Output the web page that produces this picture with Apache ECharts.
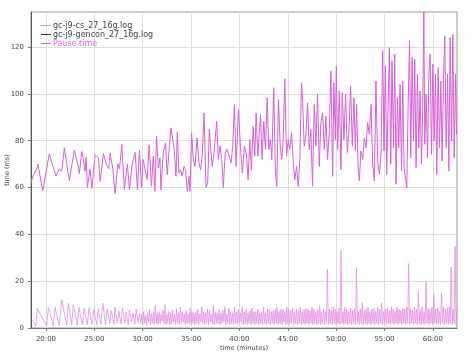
<!DOCTYPE html>
<html>
<head>
<meta charset="utf-8">
<script src="https://cdn.jsdelivr.net/npm/echarts@6/dist/echarts.min.js"></script>
<style>
  html, body { margin: 0; padding: 0; background: #fff; }
  #chart { width: 474px; height: 353px; }
</style>
</head>
<body>
<div id="chart"></div>
<script>
// pause times of the upper run, minutes -> ms
const highTime = [18.45, 18.65, 19.04, 19.17, 19.66, 20.34, 20.62, 21.04, 21.38, 21.63, 21.90, 22.15, 22.41, 22.93, 23.35, 23.45, 23.70, 23.87, 24.04, 24.15,
  24.28, 24.56, 24.74, 25.08, 25.42, 25.60, 25.94, 26.22, 26.50, 26.63, 26.91, 27.15, 27.43, 27.60, 27.84, 28.11, 28.42, 28.63, 28.91, 29.22,
  29.46, 29.67, 29.88, 30.05, 30.29, 30.47, 30.67, 30.91, 31.09, 31.26, 31.43, 31.61, 31.78, 31.89, 32.12, 32.36, 32.54, 32.75, 32.92, 33.09,
  33.26, 33.44, 33.58, 33.75, 33.92, 34.09, 34.27, 34.44, 34.61, 34.79, 34.89, 35.06, 35.23, 35.41, 35.62, 35.82, 35.99, 36.17, 36.34, 36.55,
  36.72, 36.89, 37.07, 37.20, 37.41, 37.65, 37.82, 38.00, 38.17, 38.34, 38.52, 38.73, 38.93, 39.14, 39.31, 39.48, 39.66, 39.90, 40.10, 40.31,
  40.52, 40.73, 40.90, 41.07, 41.24, 41.42, 41.59, 41.73, 41.90, 42.00, 42.18, 42.35, 42.52, 42.69, 42.87, 43.04, 43.21, 43.35, 43.55, 43.73,
  43.87, 44.04, 44.22, 44.38, 44.53, 44.69, 44.87, 45.05, 45.21, 45.39, 45.57, 45.73, 45.91, 46.08, 46.25, 46.42, 46.53, 46.70, 46.87, 47.05,
  47.22, 47.39, 47.56, 47.74, 47.91, 48.08, 48.26, 48.42, 48.60, 48.78, 48.94, 49.12, 49.30, 49.46, 49.64, 49.77, 49.92, 50.02, 50.16, 50.33,
  50.50, 50.64, 50.81, 50.98, 51.16, 51.33, 51.50, 51.68, 51.84, 51.99, 52.12, 52.26, 52.40, 52.57, 52.75, 52.92, 53.09, 53.26, 53.44, 53.61,
  53.78, 53.96, 54.12, 54.30, 54.48, 54.64, 54.82, 54.95, 55.10, 55.23, 55.37, 55.51, 55.65, 55.78, 55.93, 56.06, 56.20, 56.34, 56.48, 56.61,
  56.76, 56.89, 57.03, 57.17, 57.31, 57.44, 57.59, 57.72, 57.86, 58.00, 58.13, 58.27, 58.41, 58.55, 58.68, 58.83, 58.96, 59.07, 59.17, 59.31,
  59.45, 59.59, 59.72, 59.87, 60.00, 60.14, 60.28, 60.41, 60.55, 60.69, 60.83, 60.96, 61.11, 61.24, 61.38, 61.52, 61.66, 61.79, 61.94, 62.07,
  62.21, 62.35, 62.45];
const highMs = [62, 65, 68, 70, 58.5, 74.4, 70.3, 65, 68, 67, 77, 70, 63, 76, 69, 66, 75.5, 72, 67, 73,
  60, 68, 59.7, 74, 72.7, 62.7, 74.5, 70, 68, 74.8, 68, 57.4, 70, 68, 78.4, 59.2, 70, 59, 70, 75,
  59, 76, 60, 72, 67, 63.4, 78.2, 60.6, 73.4, 58.4, 82, 68.4, 72.7, 59, 74.8, 79.1, 65.5, 77, 85.5, 84.8,
  76.3, 64.8, 83.7, 66.2, 67.6, 64.8, 69, 67.6, 58.4, 64.8, 58.4, 83.4, 72, 69, 81.2, 70.5, 67.6, 74.8, 91.9, 60,
  62, 84.8, 74.8, 69, 76.3, 88.4, 72, 77.7, 72, 60, 74.8, 76.3, 77, 70.5, 77.7, 95.5, 69, 93.4, 77.7, 66.2,
  77.7, 74, 63.4, 80.5, 67.6, 86.2, 73.4, 91.9, 73.4, 72.7, 91.2, 72, 88.4, 76.3, 98.4, 76.3, 80.5, 72, 102.7, 66.2,
  60.5, 97.6, 77.7, 72, 80.5, 106.5, 73.4, 80.5, 76.3, 83.4, 70.5, 63.4, 69, 60.5, 72, 104.8, 97.6, 77.7, 82, 96.2,
  76.3, 84.8, 60.5, 95.5, 77.7, 100, 69, 87.7, 91.9, 76.3, 90.5, 72, 84.8, 109.8, 64.8, 104.8, 80.5, 111.9, 76.3, 101.3,
  67.6, 100.6, 80.5, 100, 74.8, 84.8, 103.4, 77.7, 98.4, 75.7, 95.5, 70, 62.8, 75.7, 72, 81.2, 77, 87.7, 82.7, 95.5,
  70, 62.8, 105.5, 71.3, 65.6, 74.2, 118.5, 75.7, 112.1, 65.6, 94.1, 119.8, 70, 114.2, 77, 117, 61.4, 98.4, 77, 104.1,
  67, 105.5, 68.5, 64.2, 59.9, 94.1, 122.7, 72.7, 115.6, 79.9, 114.9, 68.5, 108.4, 77, 101.3, 70, 94.1, 135, 78.5, 99.9,
  72.7, 108.4, 117, 74.2, 112.8, 79.9, 108.4, 65.6, 111.3, 77, 105.5, 71.3, 108.4, 124.8, 77, 108.4, 67, 124.1, 79.9, 125.5,
  72.7, 108.4, 82.7];

// lower run: early sawtooth, read point by point
const lowSawTime = [18.62, 18.96, 19.10, 20.07, 20.24, 20.76, 20.93, 21.38, 21.63, 22.14, 22.31, 22.66, 22.83, 23.24, 23.42, 23.76, 23.94, 24.28, 24.46, 24.77,
  24.94, 25.25, 25.39, 25.67, 25.88, 26.15, 26.32, 26.60, 26.74, 27.02, 27.15, 27.39, 27.53, 27.77, 27.91, 28.16, 28.29, 28.50, 28.63, 28.84,
  28.98, 29.19, 29.33, 29.53, 29.67];
const lowSawMs = [3.4, 0.9, 8.4, 0.9, 8.8, 1, 8.8, 1, 12, 1.2, 10.6, 1.5, 9.9, 1.2, 8.8, 1.5, 8.4, 1.3, 8.8, 1.6,
  7.7, 1.4, 8.2, 1.6, 10.6, 1.5, 8, 2, 7.5, 1.5, 9, 2, 7.2, 1.8, 8.5, 2.2, 6.8, 1.5, 7.6, 2.5,
  6.5, 1.8, 8, 2.4, 6.2];

// lower run: dense part, one reading every 0.1 minutes from 29.8
const lowDenseStart = 29.8;
const lowDenseStep = 0.1;
const lowDenseMs = [
  2, 6, 1.5, 7, 2, 5.5, 1, 6.5, 2.5, 8, 1.5, 6, 2, 7, 1.5, 9.5, 2, 6.5, 1.5, 7,
  2, 6, 3, 7.5, 2, 10, 1.5, 6, 2, 7, 1.5, 6.5, 2, 7.5, 2.5, 6, 1.5, 8, 2, 6.5,
  1.5, 9, 2, 7, 2.5, 6, 1.5, 7.5, 2, 6, 2, 8.5, 1.5, 7, 2, 6.5, 1.5, 7, 2, 8,
  1.5, 6, 2.5, 9, 2, 7, 1.5, 6.5, 2, 8, 1.5, 7.5, 2.5, 6, 2, 9.5, 1.5, 7, 2, 6.5,
  2, 8, 1.5, 6.5, 2, 7.5, 2.5, 9, 1.5, 6, 2, 8.5, 1.5, 7, 2, 6.5, 1.5, 9, 2, 7,
  1.5, 8, 2, 6.5, 2.5, 9, 1.5, 7, 2, 8, 1.5, 6.5, 2, 7.5, 1.5, 8.5, 2, 7, 1.5, 7,
  2, 8, 1.5, 6.5, 2, 7, 1.5, 9, 2, 6.5, 1.5, 8, 2, 8, 1.5, 7, 2, 7.5, 1.5, 8,
  2, 9, 1.5, 7, 2, 8, 1.5, 8, 2.5, 7, 1.5, 9, 2, 8, 1.5, 7.5, 2, 8.5, 1.5, 7,
  2, 8, 1.5, 7.5, 2, 9, 1.5, 7, 2, 8, 1.5, 8.5, 2, 8, 1.5, 7.5, 2, 9, 1.5, 8,
  2, 7, 1.5, 8, 2, 9.5, 1.5, 7, 2, 8, 1.5, 7, 2, 25.1, 1.5, 8, 2, 7.5, 1.5, 9,
  2, 8, 1.5, 7, 2, 8.5, 1.5, 33.1, 2, 7, 1.5, 9, 2, 8, 1.5, 7, 2, 8.5, 1.5, 7.5,
  2, 8, 1.5, 25.8, 2, 7, 1.5, 8, 2, 10.9, 1.5, 7.5, 2, 8, 1.5, 9, 2, 7, 1.5, 8,
  2, 8.5, 1.5, 7, 2, 9, 1.5, 8, 2, 10.7, 1.5, 7, 2, 8, 1.5, 8.5, 2, 7.5, 1.5, 9,
  2, 8, 1.5, 7, 2, 9, 1.5, 8, 2, 7.5, 1.5, 8.5, 2, 8, 1.5, 9, 2, 27.5, 1.5, 8,
  2, 7.5, 1.5, 9, 2, 8, 1.5, 15.6, 2, 8, 1.5, 9, 2, 7, 1.5, 19.8, 2, 8.5, 1.5, 8,
  2, 9, 1.5, 14.2, 2, 8, 1.5, 8.5, 2, 7, 1.5, 15.1, 2, 9, 1.5, 8, 2, 8.5, 1.5, 9,
  2, 26, 1.5, 8, 2, 34.8, 1.5, 8];

const xTicks = [20, 25, 30, 35, 40, 45, 50, 55, 60];
const yTicks = [0, 20, 40, 60, 80, 100, 120];
const legendNames = ['gc-j9-cs_27_16g.log', 'gc-j9-gencon_27_16g.log', 'Pause time'];

const highData = highTime.map((t, i) => [t, highMs[i]]);
const lowData = lowSawTime.map((t, i) => [t, lowSawMs[i]])
  .concat(lowDenseMs.map((v, i) => [lowDenseStart + i * lowDenseStep, v]));

const chart = echarts.init(document.getElementById('chart'));
const font = 'DejaVu Sans';
const pink = '#d860d8';

const option = {
  animation: false,
  backgroundColor: '#fff',
  textStyle: { fontFamily: font },
  grid: {
    left: 31, right: 17, top: 12, bottom: 25,
    outerBoundsMode: 'none',
    show: true, borderColor: '#999', borderWidth: 1
  },
  legend: {
    left: 36, top: 16, orient: 'vertical',
    itemWidth: 10, itemHeight: 1, itemGap: 0,
    icon: 'rect',
    textStyle: { fontSize: 8, lineHeight: 9, color: '#444', padding: [0, 0, 0, -3] },
    data: [
      { name: legendNames[0] },
      { name: legendNames[1] },
      { name: legendNames[2], textStyle: { color: '#e066e0' } }
    ]
  },
  xAxis: {
    type: 'value',
    min: 18.45, max: 62.5,
    name: 'time (minutes)', nameLocation: 'middle', nameGap: 17,
    nameMoveOverlap: false,
    nameTextStyle: { fontSize: 6.5, color: '#444' },
    axisLine: { lineStyle: { color: '#777' } },
    axisTick: { show: true, length: 3, customValues: xTicks, lineStyle: { color: '#777' } },
    axisLabel: {
      customValues: xTicks, fontSize: 7, color: '#444', margin: 8,
      formatter: v => v + ':00'
    },
    splitLine: { show: true, lineStyle: { color: '#ddd' } }
  },
  yAxis: {
    type: 'value',
    min: 0, max: 135,
    name: 'time (ms)', nameLocation: 'middle', nameGap: 20,
    nameMoveOverlap: false,
    nameTextStyle: { fontSize: 6.5, color: '#444' },
    axisLine: { show: true, lineStyle: { color: '#555' } },
    axisTick: { show: true, length: 3, customValues: yTicks, lineStyle: { color: '#777' } },
    axisLabel: { customValues: yTicks, fontSize: 7, color: '#444', margin: 7 },
    splitLine: { show: true, lineStyle: { color: '#ddd' } }
  },
  series: [
    { name: legendNames[0], type: 'line', data: [], color: '#aaa', lineStyle: { width: 1 } },
    { name: legendNames[1], type: 'line', data: [], color: '#333', lineStyle: { width: 1 } },
    {
      name: legendNames[2], type: 'line', data: highData, color: pink,
      showSymbol: false, lineStyle: { width: 1, color: pink }
    },
    {
      name: legendNames[2], type: 'line', data: lowData, color: pink,
      showSymbol: false, lineStyle: { width: 0.8, color: '#e58ee5' }
    }
  ]
};
chart.setOption(option);
</script>
</body>
</html>
